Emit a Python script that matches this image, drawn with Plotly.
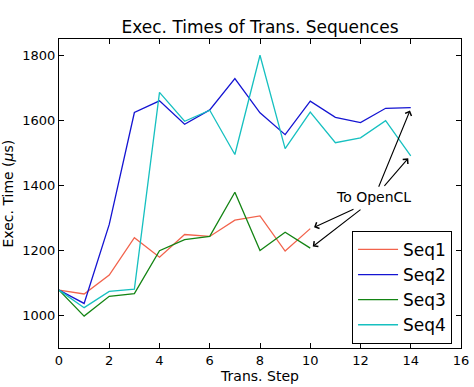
import plotly.graph_objects as go

steps_a = list(range(0, 11))
steps_b = list(range(0, 15))
seq1 = [1078, 1066, 1124, 1239, 1179, 1249, 1243, 1293, 1306, 1198, 1267]
seq2 = [1078, 1037, 1280, 1624, 1660, 1588, 1632, 1728, 1623, 1556, 1659, 1609, 1593, 1637, 1639]
seq3 = [1078, 998, 1059, 1067, 1199, 1233, 1243, 1379, 1200, 1256, 1207]
seq4 = [1078, 1024, 1074, 1081, 1686, 1597, 1631, 1495, 1800, 1513, 1625, 1531, 1546, 1599, 1491]

names = ["Seq1", "Seq2", "Seq3", "Seq4"]
colors = ["#f2634c", "#1414d2", "#138413", "#16c0c0"]

# annotation text position and arrow tail/head points (data coords)
label_pos = (12.5, 1363)
arrow_tails = [(12.7, 1391), (12.9, 1394), (11.78, 1329), (12.06, 1329)]
arrow_heads = [(13.97, 1630), (13.9, 1483), (10.15, 1271), (10.1, 1212)]

fig = go.Figure()
for name, xs, ys, c in zip(names, [steps_a, steps_b, steps_a, steps_b],
                           [seq1, seq2, seq3, seq4], colors):
    fig.add_trace(go.Scatter(x=xs, y=ys, mode="lines", name=name,
                             line=dict(color=c, width=1.3)))

font = "DejaVu Sans, sans-serif"
for (tx, ty), (hx, hy) in zip(arrow_tails, arrow_heads):
    fig.add_annotation(x=hx, y=hy, ax=tx, ay=ty, xref="x", yref="y",
                       axref="x", ayref="y", text="", showarrow=True,
                       arrowhead=4, arrowsize=1.2, arrowwidth=1.1,
                       arrowcolor="black")
fig.add_annotation(x=label_pos[0], y=label_pos[1], xref="x", yref="y",
                   text="To OpenCL", showarrow=False,
                   font=dict(family=font, size=14, color="black"))
# y-axis title placed as rotated annotation
fig.add_annotation(x=-52 / 402, y=0.5, xref="paper", yref="paper",
                   xanchor="center", yanchor="middle", textangle=-90,
                   text="Exec. Time (<i>μ</i>s)", showarrow=False,
                   font=dict(family=font, size=14, color="black"))

axis_common = dict(showgrid=False, zeroline=False, showline=True,
                   linecolor="black", linewidth=1, mirror="ticks",
                   ticks="inside", ticklen=5, tickcolor="black",
                   automargin=False,
                   tickfont=dict(family=font, size=13, color="black"))

fig.update_xaxes(range=[0, 16], tickvals=list(range(0, 17, 2)),
                 title=dict(text="Trans. Step", standoff=1,
                            font=dict(family=font, size=14, color="black")),
                 **axis_common)
fig.update_yaxes(range=[900, 1850], tickvals=[1000, 1200, 1400, 1600, 1800],
                 **axis_common)

fig.update_layout(
    width=474, height=387,
    margin=dict(l=59, r=13, t=39, b=39),
    paper_bgcolor="white", plot_bgcolor="white",
    title=dict(text="Exec. Times of Trans. Sequences", x=0.5, xanchor="center",
               xref="paper", y=1 - 27 / 387, yref="container", yanchor="middle",
               font=dict(family=font, size=17, color="black")),
    legend=dict(x=0.729, y=0.379, xanchor="left", yanchor="top",
                bordercolor="black", borderwidth=1, bgcolor="white",
                font=dict(family=font, size=17, color="black"),
                itemwidth=40),
    showlegend=True,
)

fig.write_html("out.html", config={"displayModeBar": False},
               post_script="document.body.style.margin='0';document.body.style.padding='0';")
